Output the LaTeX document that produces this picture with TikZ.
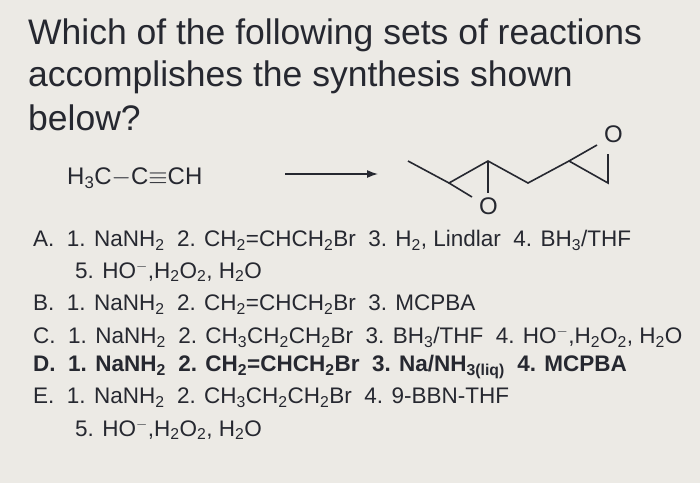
\documentclass[tikz,border=0pt]{standalone}
\usepackage{fontspec}
\usetikzlibrary{arrows.meta}
\setmainfont{Liberation Sans}
\definecolor{bg}{RGB}{236,234,229}
\definecolor{ink}{RGB}{38,40,48}
\begin{document}
\begin{tikzpicture}[x=1pt,y=-1pt,
  txt/.style={anchor=west,inner sep=0pt,text=ink},
  big/.style={txt,font=\fontsize{35.5}{36}\selectfont},
  ans/.style={txt,font=\fontsize{22.5}{23}\selectfont},
  bond/.style={draw=ink,line width=1.6pt}]
\fill[bg] (0,0) rectangle (700,483);
\useasboundingbox (0,0) rectangle (700,483);
\node[big] (t1) at (28,35) {Which of the following sets of reactions};
\node[big] (t2) at (28,77) {accomplishes the synthesis shown};
\node[big] (t3) at (28,118) {below?};
\node[ans,font=\fontsize{24}{25}\selectfont] (sm) at (67,178) {H\textsubscript{3}C$-$C$\equiv$CH};
\coordinate (a1) at (285,174);
\coordinate (a2) at (378,174);
\draw[ink,line width=1.4pt,-{Latex[length=11pt,width=8pt]}] (a1) -- (a2);
\coordinate (m) at (408,161);
\coordinate (c1) at (449,183);
\coordinate (c2) at (488,161);
\coordinate (c3) at (528,183);
\coordinate (c4) at (569,161);
\coordinate (c5) at (608,183);
\node[ans,font=\fontsize{24}{25}\selectfont] (o1) at (479,206) {O};
\node[ans,font=\fontsize{24}{25}\selectfont] (o2) at (604,134) {O};
\draw[bond] (m) -- (c1) -- (c2) -- (c3) -- (c4) -- (c5) -- (608,154);
\draw[bond] (c1) -- (472,197);
\draw[bond] (c2) -- (488,193);
\draw[bond] (c4) -- (597,145);
\node[ans] (A) at (33,240) {A.\ \ 1. NaNH\textsubscript{2}\ \ 2. CH\textsubscript{2}=CHCH\textsubscript{2}Br\ \ 3. H\textsubscript{2}, Lindlar\ \ 4. BH\textsubscript{3}/THF};
\node[ans] (A2) at (75,272) {5. HO\textsuperscript{$-$},H\textsubscript{2}O\textsubscript{2}, H\textsubscript{2}O};
\node[ans] (B) at (33,305) {B.\ \ 1. NaNH\textsubscript{2}\ \ 2. CH\textsubscript{2}=CHCH\textsubscript{2}Br\ \ 3. MCPBA};
\node[ans] (C) at (33,337) {C.\ \ 1. NaNH\textsubscript{2}\ \ 2. CH\textsubscript{3}CH\textsubscript{2}CH\textsubscript{2}Br\ \ 3. BH\textsubscript{3}/THF\ \ 4. HO\textsuperscript{$-$},H\textsubscript{2}O\textsubscript{2}, H\textsubscript{2}O};
\node[ans,font=\fontsize{22.5}{23}\selectfont\bfseries] (D) at (33,367) {D.\ \ 1. NaNH\textsubscript{2}\ \ 2. CH\textsubscript{2}=CHCH\textsubscript{2}Br\ \ 3. Na/NH\textsubscript{3(liq)}\ \ 4. MCPBA};
\node[ans] (E) at (33,398) {E.\ \ 1. NaNH\textsubscript{2}\ \ 2. CH\textsubscript{3}CH\textsubscript{2}CH\textsubscript{2}Br\ \ 4. 9-BBN-THF};
\node[ans] (E2) at (75,430) {5. HO\textsuperscript{$-$},H\textsubscript{2}O\textsubscript{2}, H\textsubscript{2}O};
\end{tikzpicture}
\end{document}
